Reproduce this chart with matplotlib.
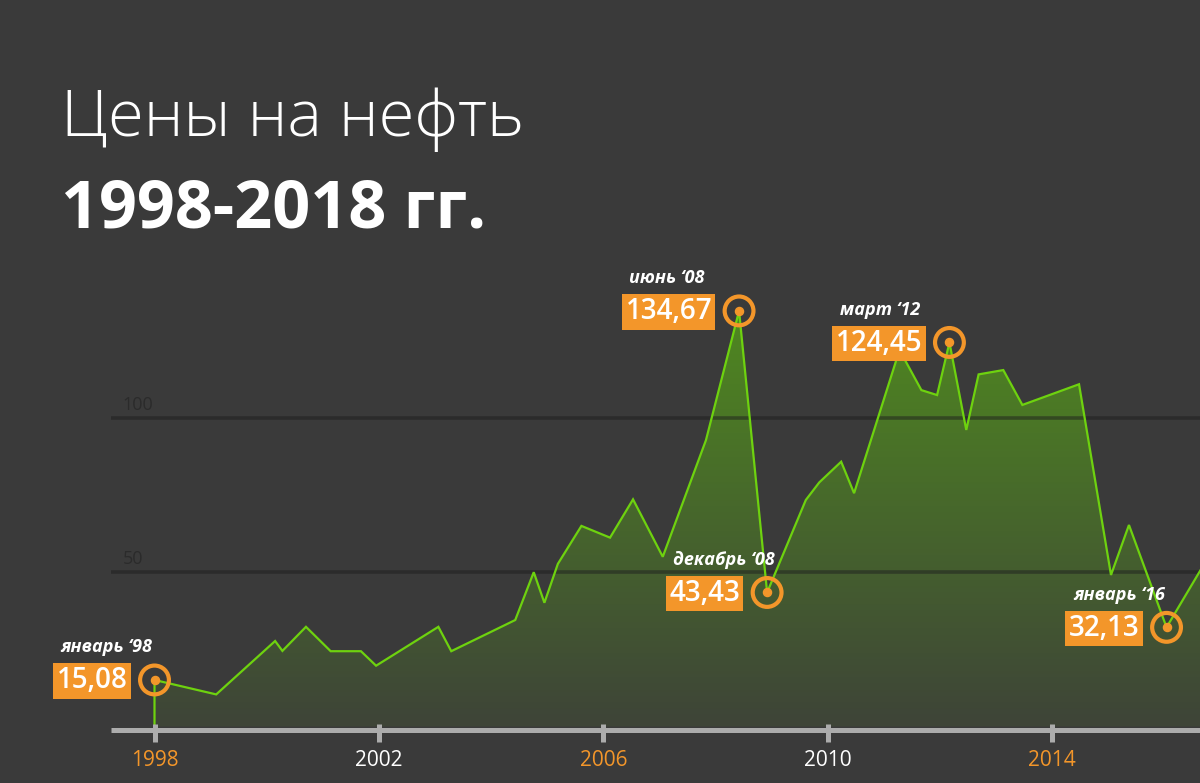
import numpy as np
import matplotlib
matplotlib.use("Agg")
import matplotlib.pyplot as plt

# ---------------- DATA ----------------
years = [1998.00, 1999.10, 2000.15, 2000.28, 2000.70, 2001.14, 2001.68, 2001.95,
         2003.06, 2003.29, 2004.43, 2004.76, 2004.95, 2005.19, 2005.61, 2006.12,
         2006.53, 2007.06, 2007.83, 2008.42, 2008.92, 2009.61, 2009.85, 2010.24,
         2010.47, 2011.28, 2011.67, 2011.95, 2012.17, 2012.47, 2012.69, 2013.13,
         2013.47, 2014.48, 2015.05, 2015.37, 2016.04, 2016.80]
prices = [15.08, 10.4, 27.7, 24.5, 32.3, 24.4, 24.4, 19.7,
          32.3, 24.4, 34.5, 50.0, 40.1, 52.7, 65.0, 61.2,
          73.6, 55.0, 92.8, 134.67, 43.43, 73.4, 79.1, 85.8,
          75.6, 122.0, 109.0, 107.4, 124.45, 96.1, 114.1, 115.5,
          104.2, 110.9, 49.1, 65.3, 32.13, 55.4]

# annotated points: (year, value, value text, month label)
notes_year = [1998.00, 2008.42, 2008.92, 2012.17, 2016.04]
notes_value = [15.08, 134.67, 43.43, 124.45, 32.13]
notes_text = ["15,08", "134,67", "43,43", "124,45", "32,13"]
notes_label = ["январь ‘98", "июнь ‘08", "декабрь ‘08", "март ‘12", "январь ‘16"]

tick_years = [1998, 2002, 2006, 2010, 2014]
grid_values = [50, 100]

# ---------------- STYLE ----------------
BG = "#3a3a3a"
GREEN = "#6ed20f"
ORANGE = "#f3962a"
AXIS = "#acacac"
FONT = ["Open Sans", "DejaVu Sans"]
plt.rcParams["font.family"] = FONT

# pixel scale of the picture
PX_YEAR = 56.1
X0_PX = 154.5
PX_VAL = 3.086
Y0_PX = 726.5

fig = plt.figure(figsize=(12, 7.83), dpi=100, facecolor=BG)
ax = fig.add_axes([0, 0, 1, 1])
ax.set_facecolor(BG)
ax.set_axis_off()

xlim = (1998 - X0_PX / PX_YEAR, 1998 + (1200 - X0_PX) / PX_YEAR)
ylim = ((Y0_PX - 783) / PX_VAL, Y0_PX / PX_VAL)

# ---------------- GRADIENT AREA ----------------
x = np.array(years)
y = np.array(prices)
poly = ax.fill_between(x, 0, y, facecolor="none", edgecolor="none")
top_c = np.array([79, 136, 32]) / 255
bot_c = np.array([62, 68, 56]) / 255
vmax = 135
t = np.linspace(0, 1, 256)[:, None]
grad = (bot_c[None, :] * (1 - t) + top_c[None, :] * t)[:, None, :]
im = ax.imshow(grad, extent=[x.min(), x.max(), 0, vmax], origin="lower",
               aspect="auto", zorder=1, interpolation="bilinear")
im.set_clip_path(poly.get_paths()[0], transform=ax.transData)

# grid lines (drawn over the area, semi-transparent)
for g in grid_values:
    ax.hlines(g, 1998 - 43.5 / PX_YEAR, xlim[1], color="#1e1e1e", lw=2.6,
              alpha=0.5, zorder=2)
    ax.annotate(str(g), xy=(1998 - 32 / PX_YEAR, g), xytext=(0, 4),
                textcoords="offset pixels", ha="left", va="bottom",
                fontsize=13, color="#2b2b2b", zorder=2)

# line, with the drop to the axis at the start
ax.plot(np.r_[x[0], x], np.r_[0, y], color=GREEN, lw=1.6, zorder=3,
        solid_joinstyle="miter")

# ---------------- X AXIS ----------------
axis_y = (Y0_PX - 730) / PX_VAL
ax.hlines(axis_y, 1998 - 43.5 / PX_YEAR, xlim[1], color=AXIS, lw=3.6, zorder=4)
for i, yr in enumerate(tick_years):
    ax.vlines(yr, (Y0_PX - 742) / PX_VAL, (Y0_PX - 724) / PX_VAL,
              color=AXIS, lw=3.6, zorder=4)
    ax.text(yr, (Y0_PX - 760) / PX_VAL, str(yr), ha="center", va="center",
            fontsize=15, color=ORANGE if i % 2 == 0 else "white", zorder=4)

# ---------------- ANNOTATIONS ----------------
ax.scatter(notes_year, notes_value, s=430, facecolors="none",
           edgecolors=ORANGE, linewidths=3.0, zorder=5)
ax.scatter(notes_year, notes_value, s=34, color=ORANGE, zorder=6)

for xv, yv, txt, lbl in zip(notes_year, notes_value, notes_text, notes_label):
    box = ax.annotate(txt, xy=(xv, yv), xytext=(-27, -1),
                      textcoords="offset pixels", ha="right", va="center",
                      fontsize=20, fontweight="semibold", color="white", zorder=7,
                      bbox=dict(boxstyle="square,pad=0.12", fc=ORANGE, ec="none"))
    ax.annotate(lbl, xy=(0, 1), xycoords=box, xytext=(4, 10),
                textcoords="offset pixels", ha="left", va="bottom",
                fontsize=13, fontweight="bold", fontstyle="italic",
                color="white", zorder=7)

ax.set_xlim(*xlim)
ax.set_ylim(*ylim)

# ---------------- TITLE ----------------
fig.text(61 / 1200, 1 - 136 / 783, "Цены на нефть", fontsize=47,
         fontweight="light", color="white", va="baseline", ha="left")
fig.text(61 / 1200, 1 - 228 / 783, "1998-2018 гг.", fontsize=48,
         fontweight="bold", color="white", va="baseline", ha="left")

fig.savefig("out.png", dpi=100, facecolor=BG)
